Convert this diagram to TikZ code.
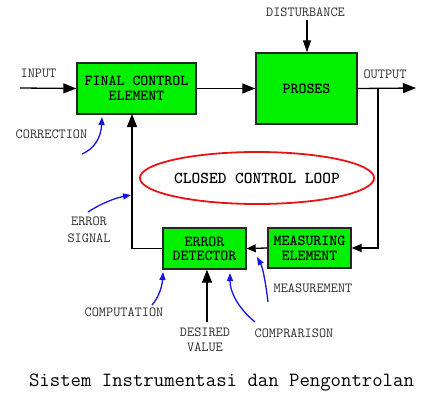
\documentclass[tikz,border=0pt]{standalone}
\usepackage{fontspec}
\usetikzlibrary{arrows.meta,shapes.geometric}
\definecolor{boxgreen}{RGB}{0,240,0}
\definecolor{labgray}{RGB}{45,45,45}
\definecolor{loopred}{RGB}{230,20,20}
\definecolor{annblue}{RGB}{20,20,230}
\tikzset{
  blockbox/.style={draw=black!85,line width=1.4pt,fill=boxgreen,inner sep=0pt,align=center,
    font=\ttfamily\bfseries\fontsize{15.2}{15}\selectfont},
  lbl/.style={inner sep=0pt,align=center,text=labgray,font=\ttfamily\fontsize{13.9}{16.5}\selectfont},
  flow/.style={line width=1.3pt,-{Triangle[length=13pt,width=10pt]}},
  smallflow/.style={line width=1.3pt,-{Triangle[length=9pt,width=8pt]}},
  ann/.style={annblue,line width=1.3pt,-{Triangle[length=8pt,width=6pt]}},
}
\begin{document}
\begin{tikzpicture}[x=1pt,y=-1pt]
\useasboundingbox (0,0) rectangle (433,401);
% blocks
\node[blockbox,minimum width=119pt,minimum height=51pt] (fce) at (136.5,88.5) {FINAL CONTROL\\ELEMENT};
\node[blockbox,minimum width=101pt,minimum height=71pt] (proses) at (306.5,88.5) {PROSES};
\node[blockbox,minimum width=83pt,minimum height=40pt] (me) at (309.5,248) {MEASURING\\ELEMENT};
\node[blockbox,minimum width=83pt,minimum height=41pt,font=\ttfamily\bfseries\fontsize{15.2}{14}\selectfont] (ed) at (204.5,248.5) {ERROR\\DETECTOR};
\node[ellipse,draw=loopred,line width=1.8pt,minimum width=210pt,minimum height=52pt,inner sep=0pt,
  font=\ttfamily\bfseries\fontsize{16.6}{17}\selectfont] (loop) at (257,178) {CLOSED CONTROL LOOP};
% labels
\node[lbl] (linput) at (38.5,73) {INPUT};
\node[lbl] (loutput) at (385,74) {OUTPUT};
\node[lbl] (ldist) at (305.5,12) {DISTURBANCE};
\node[lbl] (lcorr) at (51.5,134) {CORRECTION};
\node[lbl] (lerr) at (89,230) {ERROR\\SIGNAL};
\node[lbl] (lcomp) at (124,312) {COMPUTATION};
\node[lbl,font=\ttfamily\fontsize{13.9}{15.5}\selectfont] (ldes) at (205,339.5) {DESIRED\\VALUE};
\node[lbl] (lcmp) at (294,333) {COMPRARISON};
\node[lbl] (lmeas) at (313,288) {MEASUREMENT};
\node[inner sep=0pt,font=\ttfamily\fontsize{20.2}{22}\selectfont] (title) at (221.5,383) {Sistem Instrumentasi dan Pengontrolan};
% coordinates
\coordinate (inp) at (20,88);
\coordinate (outp) at (416,88);
\coordinate (dtop) at (307,20);
\coordinate (split) at (378,88);
\coordinate (fcein) at (132,114);
\coordinate (dvs) at (207,322);
% main flow
\draw[flow] (inp) -- (fce.west);
\draw[flow] (fce.east) -- (proses.west);
\draw[flow] (proses.east) -- (outp);
\draw[flow,-{Triangle[length=12pt,width=8pt]}] (dtop) -- (dtop |- proses.north);
\draw[smallflow,-{Triangle[length=10pt,width=8pt]}] (split) |- (me.east);
\draw[smallflow] (me.west) -- (ed.east);
\draw[flow] (ed.west) -| (fcein);
\draw[flow] (dvs) -- (dvs |- ed.south);
% annotation arrows
\coordinate (c1s) at (82,154); \coordinate (c1e) at (102,117);
\coordinate (c2s) at (88,212); \coordinate (c2e) at (131,195);
\coordinate (c3s) at (152,305); \coordinate (c3e) at (163,272);
\coordinate (c4s) at (255,322); \coordinate (c4e) at (230,273);
\coordinate (c5s) at (268,302); \coordinate (c5e) at (257,257);
\draw[ann] (c1s) .. controls (94,149) and (101,138) .. (c1e);
\draw[ann] (c2s) .. controls (100,204) and (115,198) .. (c2e);
\draw[ann] (c3s) .. controls (158,298) and (162,288) .. (c3e);
\draw[ann] (c4s) .. controls (238,308) and (230,292) .. (c4e);
\draw[ann] (c5s) .. controls (266,285) and (263,268) .. (c5e);
\end{tikzpicture}
\end{document}
